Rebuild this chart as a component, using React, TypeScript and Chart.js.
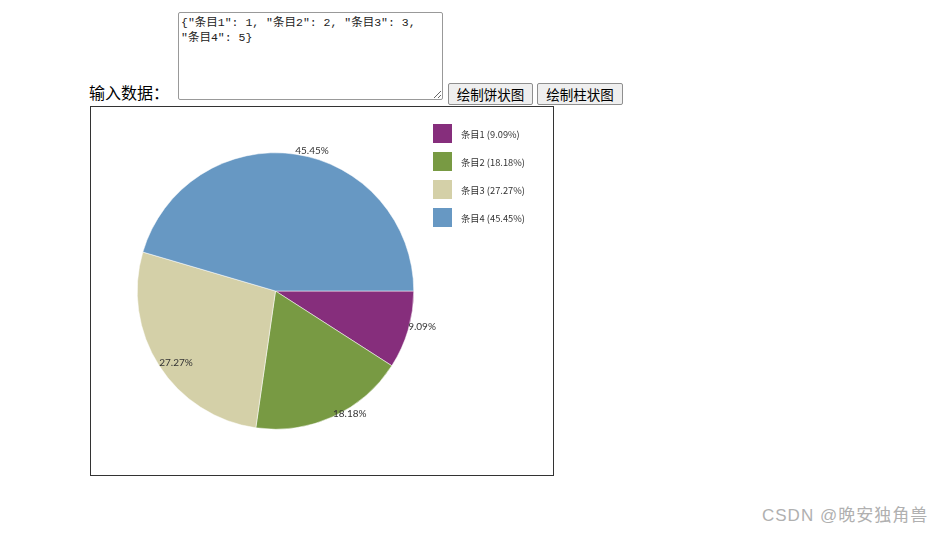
import React, { useEffect, useRef } from "react";
import { Chart, registerables } from "chart.js";

Chart.register(...registerables);

const categories = ["条目1", "条目2", "条目3", "条目4"];
const values = [1, 2, 3, 5];
const colors = ["#862e7c", "#789a43", "#d4d0a8", "#6798c3"];
const inputText = '{"条目1": 1, "条目2": 2, "条目3": 3, "条目4": 5}';
const buttonLabels = ["绘制饼状图", "绘制柱状图"];

const total = values.reduce((a, b) => a + b, 0);
const pct = (i: number) => ((values[i] / total) * 100).toFixed(2) + "%";

const pieLabels = {
  id: "pieLabels",
  afterDatasetsDraw(chart: any) {
    const meta = chart.getDatasetMeta(0);
    const ctx = chart.ctx;
    ctx.save();
    ctx.font = "10px Lato, 'Noto Sans', sans-serif";
    ctx.fillStyle = "#333";
    ctx.textAlign = "left";
    ctx.textBaseline = "alphabetic";
    meta.data.forEach((arc: any, i: number) => {
      const p = arc.getProps(["x", "y", "startAngle", "endAngle", "outerRadius"], true);
      const mid = (p.startAngle + p.endAngle) / 2;
      ctx.fillText(pct(i), p.x + Math.cos(mid) * p.outerRadius, p.y + Math.sin(mid) * p.outerRadius);
    });
    ctx.restore();
  },
};

const sideLegend = {
  id: "sideLegend",
  afterDraw(chart: any) {
    const ctx = chart.ctx;
    const area = chart.chartArea;
    const bx = area.right + 19;
    const by = area.top - 28;
    ctx.save();
    categories.forEach((c, i) => {
      const y = by + i * 28;
      ctx.fillStyle = colors[i];
      ctx.fillRect(bx, y, 19, 19);
      ctx.fillStyle = "#333";
      ctx.font = "9.3px 'Noto Sans CJK SC', 'Noto Sans', sans-serif";
      ctx.textAlign = "left";
      ctx.textBaseline = "middle";
      ctx.fillText(`${c} (${pct(i)})`, bx + 28, y + 10);
    });
    ctx.restore();
  },
};

export default function App() {
  const ref = useRef<HTMLCanvasElement | null>(null);
  useEffect(() => {
    if (!ref.current) return;
    const chart = new Chart(ref.current, {
      type: "pie",
      data: {
        labels: categories,
        datasets: [
          {
            data: values,
            backgroundColor: colors,
            borderColor: "#ffffff",
            borderWidth: 0.5,
          },
        ],
      },
      options: {
        responsive: false,
        animation: false,
        rotation: 90,
        layout: { padding: { left: 46, right: 139, top: 45, bottom: 45 } },
        plugins: {
          legend: { display: false },
          tooltip: { enabled: false },
        },
      },
      plugins: [pieLabels, sideLegend],
    });
    return () => chart.destroy();
  }, []);

  const cjk = "'Noto Sans CJK SC', 'Noto Sans', sans-serif";
  return (
    <div>
      <div
        style={{
          position: "absolute",
          left: 89,
          top: 80,
          fontSize: 16,
          fontFamily: cjk,
          color: "#000",
          lineHeight: "24px",
        }}
      >
        输入数据：
      </div>
      <textarea
        defaultValue={inputText}
        style={{
          position: "absolute",
          left: 178,
          top: 12,
          width: 265,
          height: 88,
          boxSizing: "border-box",
          fontFamily: "'Liberation Mono', 'Noto Sans CJK SC', monospace",
          fontSize: 11.5,
          lineHeight: "15px",
          padding: 2,
          border: "1px solid #999",
          borderRadius: 2,
          resize: "both",
          margin: 0,
          color: "#222",
        }}
      />
      {buttonLabels.map((b, i) => (
        <button
          key={b}
          style={{
            position: "absolute",
            left: i === 0 ? 448 : 537,
            top: 83,
            width: i === 0 ? 85 : 86,
            height: 22,
            padding: "0 4px",
            fontFamily: cjk,
            fontSize: 13.5,
            lineHeight: "18px",
            background: "#efefef",
            border: "1px solid #8f8f8f",
            borderRadius: 2,
            color: "#000",
            margin: 0,
          }}
        >
          {b}
        </button>
      ))}
      <div
        style={{
          position: "absolute",
          left: 90,
          top: 106,
          width: 462,
          height: 368,
          border: "1px solid #333",
        }}
      >
        <canvas ref={ref} width={462} height={368} style={{ display: "block" }} />
      </div>
      <div
        style={{
          position: "absolute",
          left: 762,
          top: 504,
          fontSize: 17,
          letterSpacing: 1,
          fontFamily: "'Liberation Sans', 'Noto Sans CJK SC', sans-serif",
          color: "#b0b0b0",
          lineHeight: "24px",
          whiteSpace: "nowrap",
        }}
      >
        CSDN @晚安独角兽
      </div>
    </div>
  );
}
